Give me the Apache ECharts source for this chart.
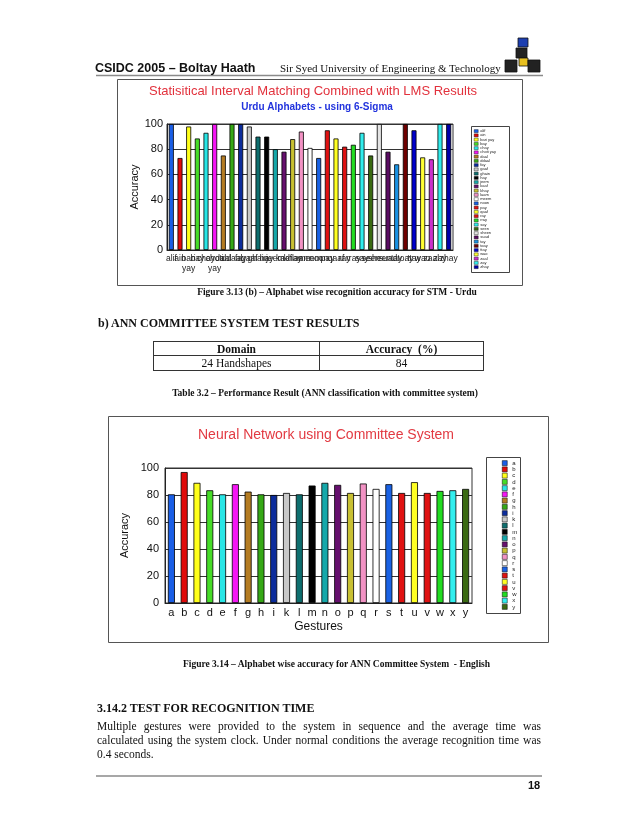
<!DOCTYPE html>
<html>
<head>
<meta charset="utf-8">
<script src="https://cdn.jsdelivr.net/npm/echarts@6/dist/echarts.min.js"></script>
<style>
  html, body { margin:0; padding:0; background:#fff; }
  #page { position:relative; width:638px; height:826px; overflow:hidden; }
  #chart { position:absolute; left:0; top:0; width:638px; height:826px; }
  .t { position:absolute; white-space:nowrap; color:#111; line-height:1; z-index:2; }
  .serif { font-family:"Liberation Serif","Times New Roman",serif; }
  .sans { font-family:"Liberation Sans",Arial,sans-serif; }
  .b { font-weight:bold; }
  .c { text-align:center; width:440px; }
  table.tb { position:absolute; left:153px; top:341px; border-collapse:collapse; z-index:2;
    font-family:"Liberation Serif","Times New Roman",serif; font-size:11.5px; color:#111; }
  table.tb td { border:1px solid #333; padding:0; text-align:center; line-height:12px; }
  .para { position:absolute; left:97px; width:444px; font-family:"Liberation Serif","Times New Roman",serif;
    font-size:11.5px; line-height:13.8px; color:#111; z-index:2; }
  .j { text-align:justify; text-align-last:justify; }
</style>
</head>
<body>
<div id="page">
  <div id="chart"></div>

  <div class="t sans b" style="left:95px; top:62px; font-size:12.5px;">CSIDC 2005 – Boltay Haath</div>
  <div class="t serif" style="left:280px; top:62.5px; font-size:11px;">Sir Syed University of Engineering &amp; Technology</div>

  <div class="t serif b c" style="left:117px; top:287.5px; font-size:9.5px;">Figure 3.13 (b) – Alphabet wise recognition accuracy for STM - Urdu</div>

  <div class="t serif b" style="left:98px; top:317px; font-size:12px;">b) ANN COMMITTEE SYSTEM TEST RESULTS</div>

  <table class="tb">
    <tr style="height:14px;"><td style="width:165px;"><b>Domain</b></td><td style="width:163px;"><b>Accuracy&nbsp; (%)</b></td></tr>
    <tr style="height:15px;"><td>24 Handshapes</td><td>84</td></tr>
  </table>

  <div class="t serif b c" style="left:105px; top:388.5px; font-size:9.5px;">Table 3.2 – Performance Result (ANN classification with committee system)</div>

  <div class="t serif b c" style="left:116.5px; top:659.5px; font-size:9.5px;">Figure 3.14 – Alphabet wise accuracy for ANN Committee System &nbsp;- English</div>

  <div class="t serif b" style="left:97px; top:702px; font-size:12px;">3.14.2 TEST FOR RECOGNITION TIME</div>

  <div class="para" style="top:720px;">
    <div class="j">Multiple gestures were provided to the system in sequence and the average time was</div>
    <div class="j">calculated using the system clock. Under normal conditions the average recognition time was</div>
    <div>0.4 seconds.</div>
  </div>

  <div class="t sans b" style="left:528px; top:780px; font-size:11px;">18</div>
</div>

<script>
// ---------- data ----------
const urduNames = ['alif','ain','bari yay','bay','chay','choti yay','daal','ddaal','fay','gaaf','ghain',
  'hay','jeem','kaaf','khay','laam','meem','noon','pay','qaaf','ray','rray','say','seen','sheen','suad',
  'tay','toay','ttay','wao','zaal','zay','zhay'];
const urduAccuracy = [100,73,98,88.5,93,100,75,100,100,98,90,90,80,78,88,94,81,73,95,88.5,82,83.5,93,75,
  100,78,68,100,95,73.5,72,100,100];

const gestureLetters = ['a','b','c','d','e','f','g','h','i','k','l','m','n','o','p','q','r','s','t','u','v','w','x','y'];
const gestureAccuracy = [80.5,97,89,83.5,80.5,88,82.5,80.5,80,81.5,80.5,87,89,87.5,81.5,88.5,84.5,88,81.5,89.5,81.5,83,83.5,84.5];

const barColors = ['#1a5ee6','#e00a0a','#ffff1a','#46dc28','#28e6e6','#f516f5','#b47c22','#36a816','#0c2c9c',
  '#c8c8c8','#0e6e6e','#000000','#16a8aa','#66106e','#c8c032','#f292c4','#ffffff','#1a62e4','#e01212',
  '#ffff22','#e01212','#22dc22','#32eeee','#3a6a12','#e4e4e4','#5a0c62','#1a92e2','#6e0000','#0000cc',
  '#ffff33','#cc30cc','#30eeee','#0000aa'];

const yMin = 0, yMax = 100, yStep = 20;

// ---------- chart ----------
const FONT = '"Liberation Sans", Arial, sans-serif';

function barSeries(names, values, axisIdx, width) {
  return names.map((n, i) => ({
    name: n, type: 'bar', xAxisIndex: axisIdx, yAxisIndex: axisIdx,
    barWidth: width, barGap: '-100%',
    data: values.map((v, j) => (j === i ? v : null)),
    itemStyle: { color: barColors[i], borderColor: '#000', borderWidth: 0.8 },
    emphasis: { disabled: true }, animation: false
  }));
}

function valueAxis(idx, nameGap, margin) {
  return {
    type: 'value', gridIndex: idx, min: yMin, max: yMax, interval: yStep,
    name: 'Accuracy', nameLocation: 'middle', nameRotate: 90, nameGap: nameGap,
    nameTextStyle: { fontFamily: FONT, fontSize: 11, color: '#111' },
    axisLine: { show: true, lineStyle: { color: '#222', width: 1 } },
    axisTick: { show: false },
    axisLabel: { fontFamily: FONT, fontSize: 11, color: '#111', margin: margin },
    splitLine: { show: true, lineStyle: { color: '#333', width: 1 } }
  };
}

const chart = echarts.init(document.getElementById('chart'), null, { renderer: 'canvas' });

chart.setOption({
  animation: false,
  backgroundColor: '#fff',
  title: [
    { text: 'Statisitical Interval Matching Combined with LMS Results', left: 313, top: 85, textAlign: 'center', padding: 0,
      textStyle: { fontFamily: FONT, fontSize: 13, fontWeight: 'normal', color: '#e2313c' } },
    { text: 'Urdu Alphabets - using 6-Sigma', left: 317, top: 102.5, textAlign: 'center', padding: 0,
      textStyle: { fontFamily: FONT, fontSize: 10, fontWeight: 'bold', color: '#2233dd' } },
    { text: 'Neural Network using Committee System', left: 326, top: 428.5, textAlign: 'center', padding: 0,
      textStyle: { fontFamily: FONT, fontSize: 14, fontWeight: 'normal', color: '#e23a42' } }
  ],
  grid: [
    { left: 167, top: 124, width: 286, height: 126, show: true, borderColor: '#333', borderWidth: 1,
      backgroundColor: '#fff', containLabel: false, outerBoundsMode: 'none' },
    { left: 165, top: 468, width: 307, height: 135, show: true, borderColor: '#333', borderWidth: 1,
      backgroundColor: '#fff', containLabel: false, outerBoundsMode: 'none' }
  ],
  xAxis: [
    { type: 'category', gridIndex: 0, data: urduNames,
      axisLine: { lineStyle: { color: '#222' } }, axisTick: { show: false },
      axisLabel: { interval: 0, fontFamily: FONT, fontSize: 8.5, lineHeight: 10.5, color: '#222', margin: 3,
        formatter: v => v.replace(' ', '\n') } },
    { type: 'category', gridIndex: 1, data: gestureLetters,
      name: 'Gestures', nameLocation: 'middle', nameGap: 18,
      nameTextStyle: { fontFamily: FONT, fontSize: 12, color: '#111' },
      axisLine: { lineStyle: { color: '#222' } }, axisTick: { show: false },
      axisLabel: { interval: 0, fontFamily: FONT, fontSize: 11, color: '#111', margin: 4 } }
  ],
  yAxis: [ valueAxis(0, 27, 4), valueAxis(1, 35, 6) ],
  legend: [
    { data: urduNames, orient: 'vertical', left: 474, top: 129, padding: 0, itemGap: 0,
      itemWidth: 4, itemHeight: 3, icon: 'rect', selectedMode: false,
      itemStyle: { borderColor: '#000', borderWidth: 0.4 },
      textStyle: { fontFamily: FONT, fontSize: 4, lineHeight: 4.25, color: '#222', padding: [0, 0, 0, -3] } },
    { data: gestureLetters, orient: 'vertical', left: 502, top: 460, padding: 0, itemGap: 0,
      itemWidth: 5, itemHeight: 5, icon: 'rect', selectedMode: false,
      itemStyle: { borderColor: '#000', borderWidth: 0.5 },
      textStyle: { fontFamily: FONT, fontSize: 6, lineHeight: 6.25, color: '#222' } }
  ],
  graphic: [
    // header rule and footer rule
    { type: 'line', shape: { x1: 96, y1: 75.5, x2: 543, y2: 75.5 }, style: { stroke: '#8a8a8a', lineWidth: 1.6 } },
    { type: 'line', shape: { x1: 96, y1: 776, x2: 542, y2: 776 }, style: { stroke: '#8a8a8a', lineWidth: 1.6 } },
    // chart frames
    { type: 'rect', shape: { x: 117.5, y: 79.5, width: 405, height: 206 }, style: { fill: 'none', stroke: '#555', lineWidth: 1 } },
    { type: 'rect', shape: { x: 108.5, y: 416.5, width: 440, height: 226 }, style: { fill: 'none', stroke: '#555', lineWidth: 1 } },
    // legend frames
    { type: 'rect', shape: { x: 471.5, y: 126.5, width: 38, height: 146 }, style: { fill: 'none', stroke: '#444', lineWidth: 1 } },
    { type: 'rect', shape: { x: 486.5, y: 457.5, width: 34, height: 156 }, style: { fill: 'none', stroke: '#444', lineWidth: 1 } },
    // logo blocks
    { type: 'rect', shape: { x: 518, y: 38, width: 10, height: 9 }, style: { fill: '#1d3fb0', stroke: '#111', lineWidth: 0.8 } },
    { type: 'rect', shape: { x: 516, y: 48, width: 11, height: 10 }, style: { fill: '#222', stroke: '#111', lineWidth: 0.8 } },
    { type: 'rect', shape: { x: 505, y: 60, width: 12, height: 12 }, style: { fill: '#222', stroke: '#111', lineWidth: 0.8 } },
    { type: 'rect', shape: { x: 519, y: 58, width: 9, height: 8 }, style: { fill: '#e8c020', stroke: '#111', lineWidth: 0.8 } },
    { type: 'rect', shape: { x: 528, y: 60, width: 12, height: 12 }, style: { fill: '#222', stroke: '#111', lineWidth: 0.8 } }
  ],
  series: [].concat(barSeries(urduNames, urduAccuracy, 0, 5), barSeries(gestureLetters, gestureAccuracy, 1, 7))
});
</script>
</body>
</html>
